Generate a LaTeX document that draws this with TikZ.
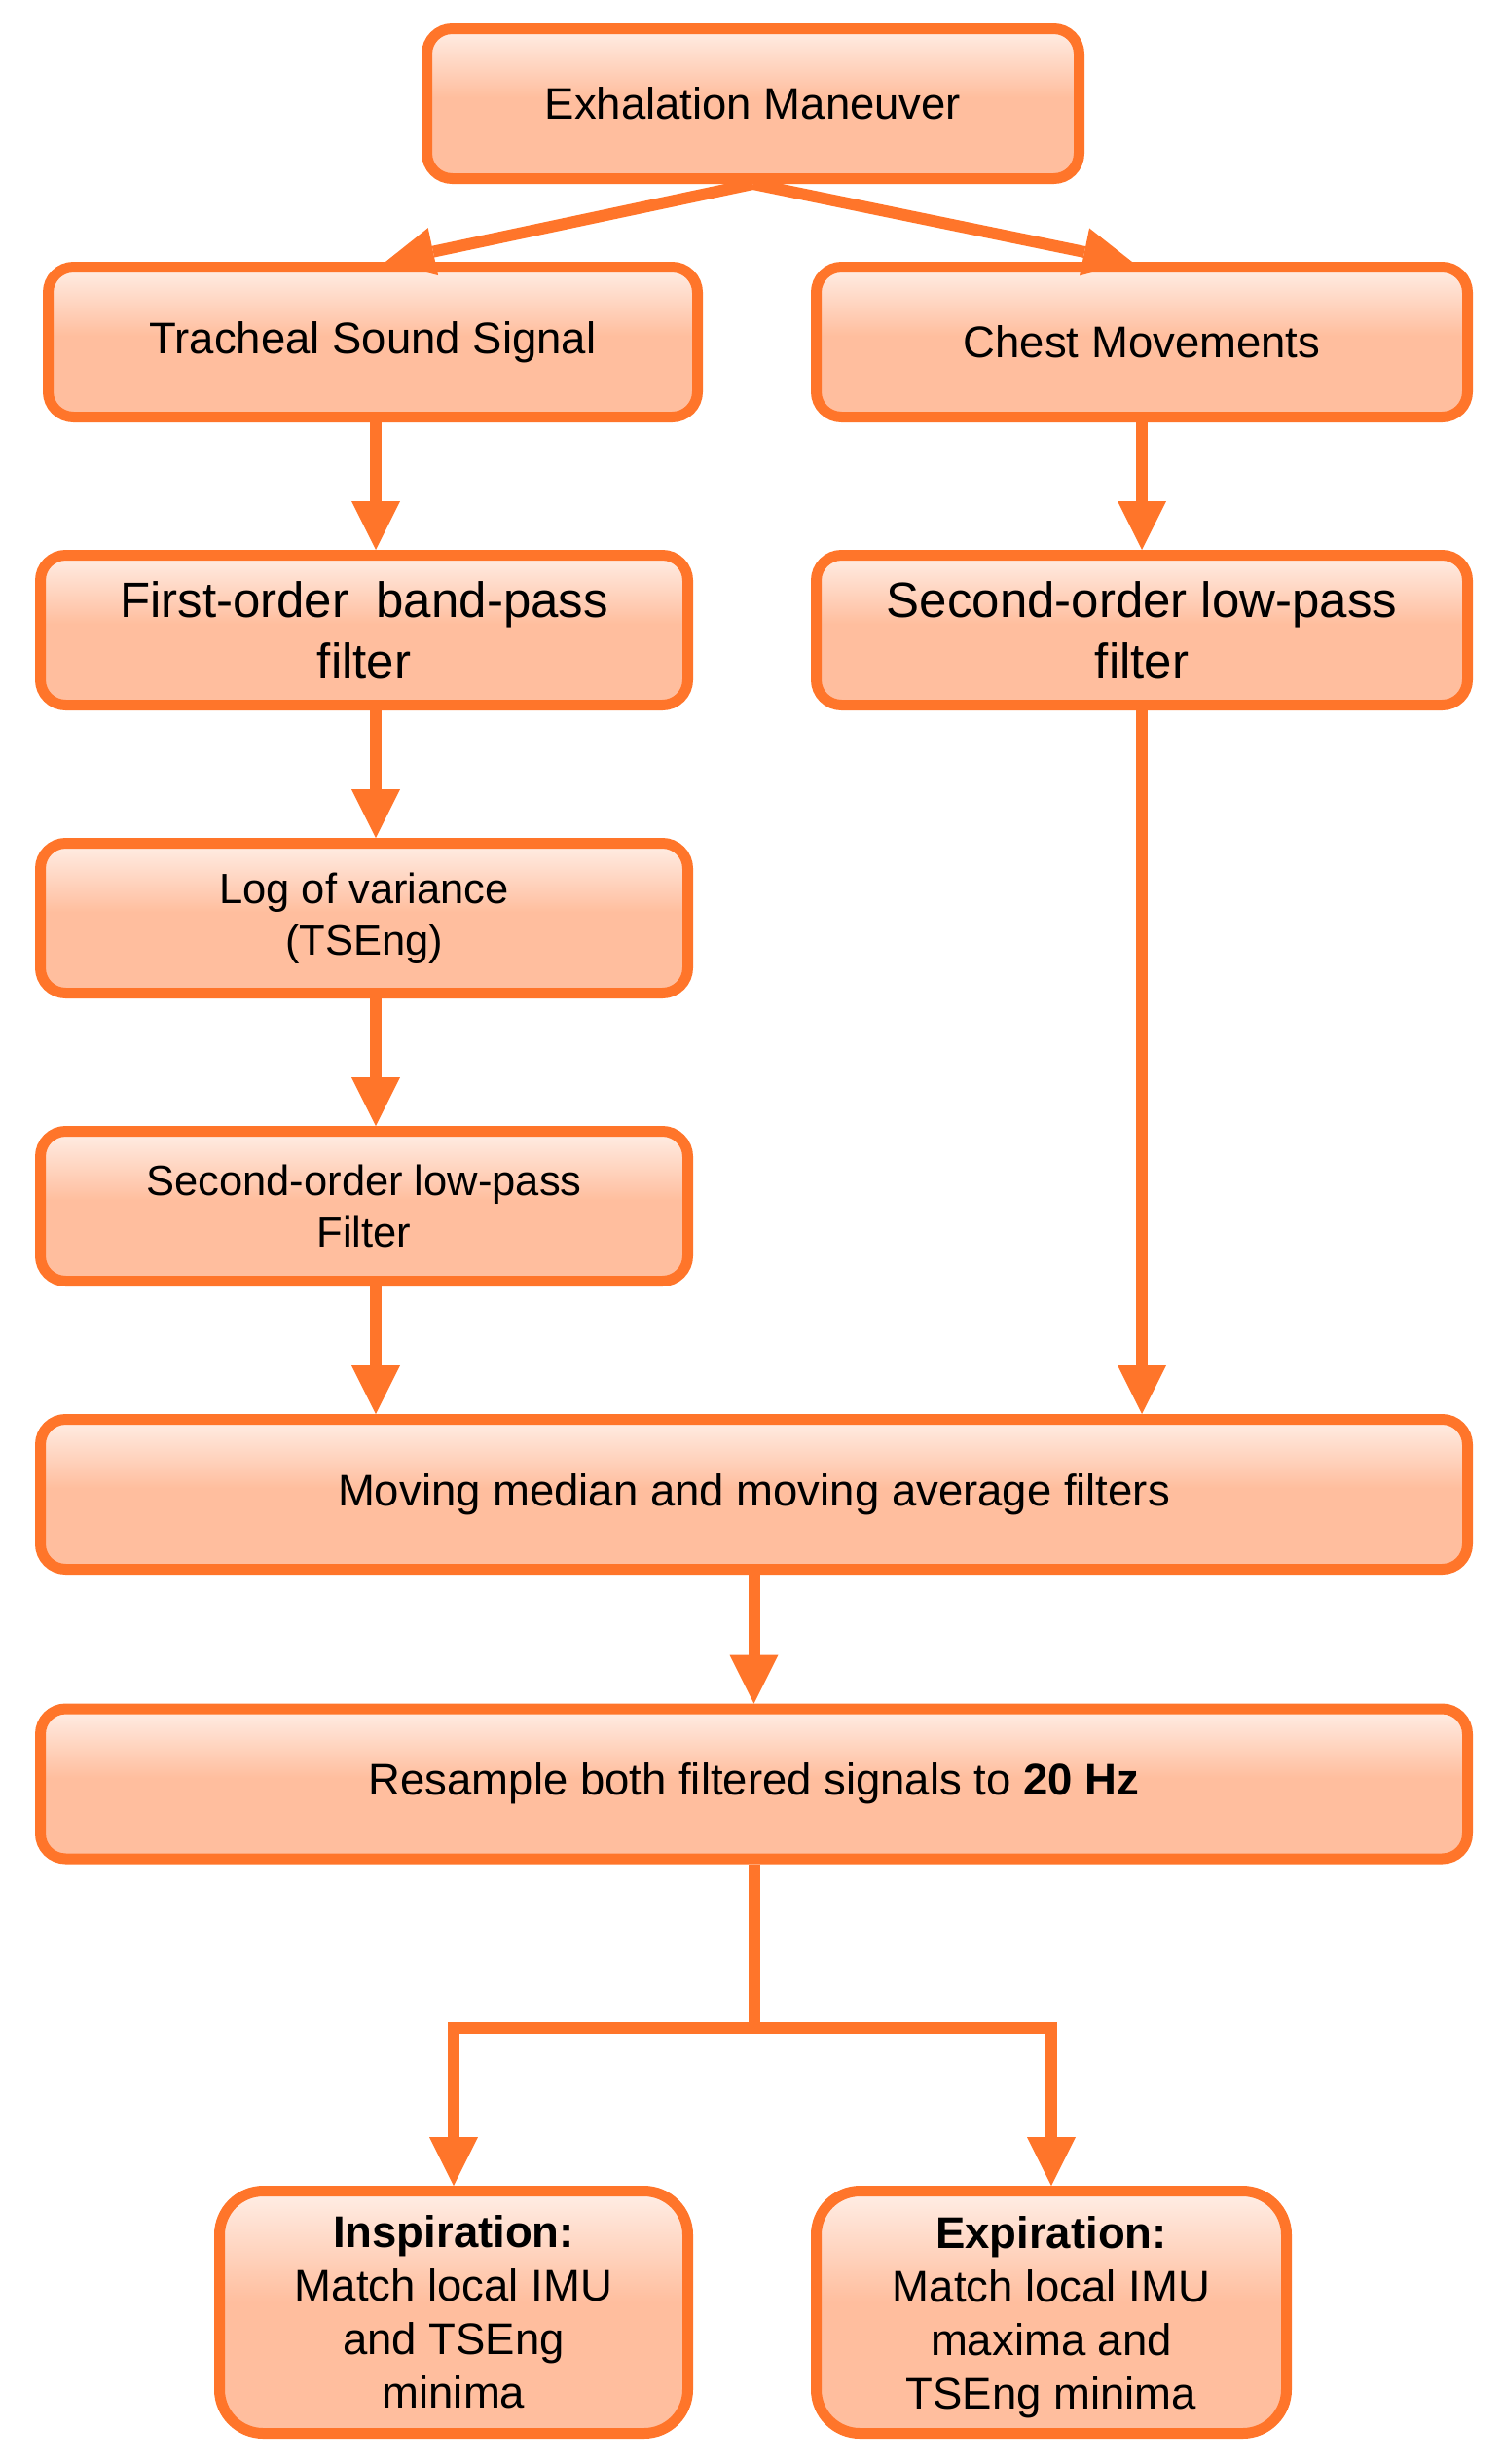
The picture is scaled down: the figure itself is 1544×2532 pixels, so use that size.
\documentclass[tikz,border=0pt]{standalone}
\usepackage{fontspec}
\setmainfont{Liberation Sans}
\usetikzlibrary{arrows.meta,calc}
\definecolor{boxline}{RGB}{255,117,42}
\definecolor{boxmid}{RGB}{255,190,158}
\definecolor{boxtop}{RGB}{255,238,230}
\pgfdeclareverticalshading{boxshade}{100bp}{color(0bp)=(boxmid); color(25bp)=(boxmid); color(52bp)=(boxmid); color(75bp)=(boxtop); color(100bp)=(boxtop)}
\begin{document}
\begin{tikzpicture}[x=1pt,y=-1pt,
  box/.style={draw=boxline, line width=11pt, rounded corners=26pt, shading=boxshade,
    align=center, inner sep=0pt, minimum height=154pt,
    font=\fontsize{45.5}{55}\selectfont},
  bigtxt/.style={font=\fontsize{51}{63}\selectfont},
  smalltxt/.style={font=\fontsize{43.5}{53}\selectfont},
  arr/.style={draw=boxline, line width=12pt, line join=miter,
    -{Triangle[width=50pt,length=50pt,line width=0pt]}},
]
\useasboundingbox (0,0) rectangle (1544,2532);

\node[box, minimum width=670pt] (exh) at (773.5,106.5) {Exhalation Maneuver};
\node[box, minimum width=667pt] (trach) at (383,351.5) {Tracheal Sound Signal};
\node[box, minimum width=669pt] (chest) at (1173,351.5) {Chest Movements};
\node[box, bigtxt, minimum width=665pt] (first) at (374,647.5) {First-order\ \ band-pass\\filter};
\node[box, bigtxt, minimum width=669pt] (sec2) at (1173,647.5) {Second-order low-pass\\filter};
\node[box, smalltxt, minimum width=665pt] (logv) at (374,943.5) {Log of variance\\(TSEng)};
\node[box, smalltxt, minimum width=665pt] (sec1) at (374,1239.5) {Second-order low-pass\\Filter};
\node[box, minimum width=1466pt] (mov) at (774.5,1535.5) {Moving median and moving average filters};
\node[box, minimum width=1466pt] (res) at (774.5,1833) {Resample both filtered signals to \textbf{20 Hz}};
\node[box, rounded corners=45pt, minimum width=481pt, minimum height=249pt] (insp) at (466,2376)
  {\textbf{Inspiration:}\\Match local IMU\\and TSEng\\minima};
\node[box, rounded corners=45pt, minimum width=483pt, minimum height=249pt] (expi) at (1080,2376)
  {\textbf{Expiration:}\\Match local IMU\\maxima and\\\smash{TSEng minima}};

\coordinate (lx) at (386,0);
\coordinate (split) at ($(res.south)+(0,168)$);

\draw[arr] (exh.south) -- ($(trach.north)+(13,0)$);
\draw[arr] (exh.south) -- ($(chest.north)+(-10,0)$);
\draw[arr] (trach.south -| lx) -- (first.north -| lx);
\draw[arr] (chest.south) -- (sec2.north);
\draw[arr] (first.south -| lx) -- (logv.north -| lx);
\draw[arr] (logv.south -| lx) -- (sec1.north -| lx);
\draw[arr] (sec1.south -| lx) -- (mov.north -| lx);
\draw[arr] (sec2.south) -- (sec2.south |- mov.north);
\draw[arr] (mov.south) -- (res.north);
\draw[arr] (res.south) -- (split) -| (insp.north);
\draw[arr] (split) -| (expi.north);
\end{tikzpicture}
\end{document}
